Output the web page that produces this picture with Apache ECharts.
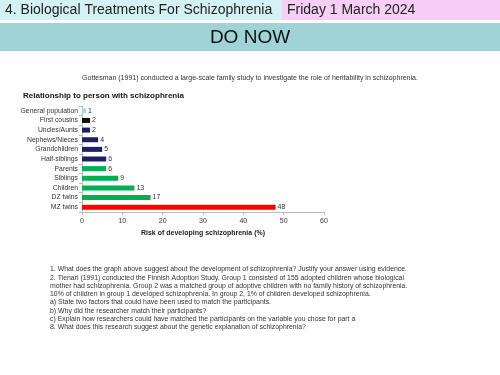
<!DOCTYPE html>
<html><head><meta charset="utf-8">
<script src="https://cdn.jsdelivr.net/npm/echarts@6/dist/echarts.min.js"></script>
<style>html,body{margin:0;padding:0;background:#fff}#c{width:500px;height:375px}</style>
</head><body><div id="c"></div>
<script>
const categories = ["General population","First cousins","Uncles/Aunts","Nephews/Nieces","Grandchildren","Half-siblings","Parents","Siblings","Children","DZ twins","MZ twins"];
const risk = [1,2,2,4,5,6,6,9,13,17,48];
const barColors = ["#a6dde0","#111111","#1f1f66","#1f1f66","#1f1f66","#1f1f66","#00b050","#00b050","#00b050","#00b050","#ff0000"];
const xTicks = [0,10,20,30,40,50,60];
const questions = [
"1. What does the graph above suggest about the development of schizophrenia? Justify your answer using evidence.",
"2. Tienari (1991) conducted the Finnish Adoption Study. Group 1 consisted of 155 adopted children whose biological",
"mother had schizophrenia. Group 2 was a matched group of adoptive children with no family history of schizophrenia.",
"10% of children in group 1 developed schizophrenia. In group 2, 1% of children developed schizophrenia.",
"a) State two factors that could have been used to match the participants.",
"b) Why did the researcher match their participants?",
"c) Explain how researchers could have matched the participants on the variable you chose for part a",
"8. What does this research suggest about the genetic explanation of schizophrenia?"
];
const chart = echarts.init(document.getElementById('c'), null, {renderer:'canvas'});
const font = 'Liberation Sans, Arial, sans-serif';
const qGraphics = questions.map((q,i)=>({type:'text', left:50, top:266 + i*8.25, style:{text:q, font:'6.9px '+font, fill:'#333'}}));
chart.setOption({
  animation:false,
  textStyle:{fontFamily:font},
  graphic:[
    {type:'rect', shape:{x:0,y:0,width:282,height:20}, style:{fill:'#d4f1f4'}},
    {type:'rect', shape:{x:282,y:0,width:218,height:20}, style:{fill:'#f6cef6'}},
    {type:'text', x:5, y:10.5, style:{text:'4. Biological Treatments For Schizophrenia', font:'14px '+font, fill:'#222', verticalAlign:'middle'}},
    {type:'text', x:287, y:10.5, style:{text:'Friday 1 March 2024', font:'14px '+font, fill:'#222', verticalAlign:'middle'}},
    {type:'rect', shape:{x:0,y:23,width:500,height:28}, style:{fill:'#9fd3d6'}},
    {type:'text', x:250, y:38, style:{text:'DO NOW', font:'19px '+font, fill:'#111', align:'center', verticalAlign:'middle'}},
    {type:'text', x:250, y:78, style:{text:'Gottesman (1991) conducted a large-scale family study to investigate the role of heritability in schizophrenia.', font:'7px '+font, fill:'#333', align:'center', verticalAlign:'middle'}},
    {type:'text', x:23, y:96, style:{text:'Relationship to person with schizophrenia', font:'bold 8px '+font, fill:'#111', verticalAlign:'middle'}},
    ...qGraphics
  ],
  grid:{left:82, top:106, width:242, height:106, containLabel:false},
  xAxis:{type:'value', min:0, max:60, interval:10,
    name:'Risk of developing schizophrenia (%)', nameLocation:'middle', nameGap:18,
    nameTextStyle:{fontSize:7, fontWeight:'bold', color:'#222'},
    axisLine:{show:true, lineStyle:{color:'#bbb'}},
    axisTick:{show:true, length:3, lineStyle:{color:'#bbb'}},
    axisLabel:{fontSize:7, color:'#333', margin:6},
    splitLine:{show:false}},
  yAxis:{type:'category', data:categories, inverse:true,
    axisLine:{show:true, lineStyle:{color:'#bbb'}},
    axisTick:{show:true, length:3, lineStyle:{color:'#bbb'}},
    axisLabel:{fontSize:6.8, color:'#333', margin:4}},
  series:[{type:'bar', data:risk.map((v,i)=>({value:v, itemStyle:{color:barColors[i]}})), barWidth:5,
    label:{show:true, position:'right', distance:2, fontSize:7, color:'#333'}}]
});
</script></body></html>
